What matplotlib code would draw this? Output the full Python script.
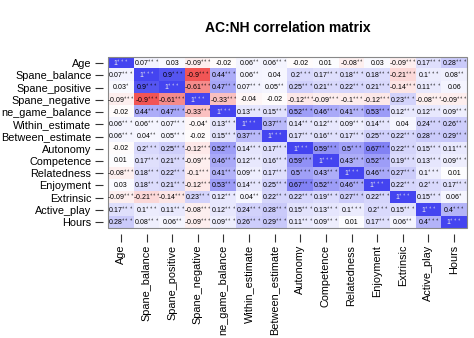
import numpy as np
import matplotlib
matplotlib.use("Agg")
import matplotlib.pyplot as plt
from matplotlib.colors import LinearSegmentedColormap
from matplotlib.patches import Rectangle

plt.rcParams['font.family'] = ['Liberation Sans', 'DejaVu Sans']
plt.rcParams['mathtext.fontset'] = 'custom'
plt.rcParams['mathtext.rm'] = 'Liberation Sans'
plt.rcParams['mathtext.it'] = 'Liberation Sans'
plt.rcParams['mathtext.bf'] = 'Liberation Sans:bold'

labels = ["Age", "Spane_balance", "Spane_positive", "Spane_negative",
          "ne_game_balance", "Within_estimate", "Between_estimate", "Autonomy",
          "Competence", "Relatedness", "Enjoyment", "Extrinsic", "Active_play", "Hours"]

# correlation values, row by row
r_age = [1, 0.07, 0.03, -0.09, -0.02, 0.06, 0.06, -0.02, 0.01, -0.08, 0.03, -0.09, 0.17, 0.28]
r_sbal = [0.07, 1, 0.9, -0.9, 0.44, 0.06, 0.04, 0.2, 0.17, 0.18, 0.18, -0.21, 0.1, 0.08]
r_spos = [0.03, 0.9, 1, -0.61, 0.47, 0.07, 0.05, 0.25, 0.21, 0.22, 0.21, -0.14, 0.11, 0.06]
r_sneg = [-0.09, -0.9, -0.61, 1, -0.33, -0.04, -0.02, -0.12, -0.09, -0.1, -0.12, 0.23, -0.08, -0.09]
r_gbal = [-0.02, 0.44, 0.47, -0.33, 1, 0.13, 0.15, 0.52, 0.46, 0.41, 0.53, 0.12, 0.12, 0.09]
r_with = [0.06, 0.06, 0.07, -0.04, 0.13, 1, 0.37, 0.14, 0.12, 0.09, 0.14, 0.04, 0.24, 0.26]
r_betw = [0.06, 0.04, 0.05, -0.02, 0.15, 0.37, 1, 0.17, 0.16, 0.17, 0.25, 0.22, 0.28, 0.29]
r_auto = [-0.02, 0.2, 0.25, -0.12, 0.52, 0.14, 0.17, 1, 0.59, 0.5, 0.67, 0.22, 0.15, 0.11]
r_comp = [0.01, 0.17, 0.21, -0.09, 0.46, 0.12, 0.16, 0.59, 1, 0.43, 0.52, 0.19, 0.13, 0.09]
r_rela = [-0.08, 0.18, 0.22, -0.1, 0.41, 0.09, 0.17, 0.5, 0.43, 1, 0.46, 0.27, 0.1, 0.01]
r_enjo = [0.03, 0.18, 0.21, -0.12, 0.53, 0.14, 0.25, 0.67, 0.52, 0.46, 1, 0.22, 0.2, 0.17]
r_extr = [-0.09, -0.21, -0.14, 0.23, 0.12, 0.04, 0.22, 0.22, 0.19, 0.27, 0.22, 1, 0.15, 0.06]
r_act = [0.17, 0.1, 0.11, -0.08, 0.12, 0.24, 0.28, 0.15, 0.13, 0.1, 0.2, 0.15, 1, 0.4]
r_hour = [0.28, 0.08, 0.06, -0.09, 0.09, 0.26, 0.29, 0.11, 0.09, 0.01, 0.17, 0.06, 0.4, 1]

# significance stars, row by row
s_age = ["***", "***", "", "***", "", "**", "***", "", "", "**", "", "***", "***", "***"]
s_sbal = ["***", "***", "***", "***", "***", "**", "", "***", "***", "***", "***", "***", "***", "**"]
s_spos = ["*", "***", "***", "***", "***", "***", "**", "***", "***", "***", "***", "***", "***", ""]
s_sneg = ["***", "***", "***", "***", "***", "", "", "***", "***", "***", "***", "***", "***", "***"]
s_gbal = ["", "***", "***", "***", "***", "***", "***", "***", "***", "***", "***", "***", "***", "***"]
s_with = ["***", "***", "***", "*", "***", "***", "***", "***", "***", "***", "***", "", "***", "***"]
s_betw = ["***", "**", "***", "", "***", "***", "***", "***", "***", "***", "***", "***", "***", "***"]
s_auto = ["", "***", "***", "***", "***", "***", "***", "***", "***", "***", "***", "***", "***", "***"]
s_comp = ["", "***", "***", "***", "***", "***", "***", "***", "***", "***", "***", "***", "***", "***"]
s_rela = ["***", "***", "***", "***", "***", "***", "***", "***", "***", "***", "***", "***", "***", ""]
s_enjo = ["", "***", "***", "***", "***", "***", "***", "***", "***", "***", "***", "***", "***", "***"]
s_extr = ["***", "***", "***", "***", "***", "**", "***", "***", "***", "***", "***", "***", "***", "*"]
s_act = ["***", "***", "***", "***", "***", "***", "***", "***", "***", "***", "***", "***", "***", "***"]
s_hour = ["***", "***", "**", "***", "***", "***", "***", "***", "***", "", "***", "**", "***", "***"]

vals = np.array([r_age, r_sbal, r_spos, r_sneg, r_gbal, r_with, r_betw,
                 r_auto, r_comp, r_rela, r_enjo, r_extr, r_act, r_hour])
stars = [s_age, s_sbal, s_spos, s_sneg, s_gbal, s_with, s_betw,
         s_auto, s_comp, s_rela, s_enjo, s_extr, s_act, s_hour]

cmap = LinearSegmentedColormap.from_list("rwb", ["#f04444", "#ffffff", "#4444f0"])

fig = plt.figure(figsize=(4.74, 3.38), dpi=100)
ax = fig.add_axes([0.228, 0.325, 0.757, 0.506])
ax.imshow(vals, cmap=cmap, vmin=-1, vmax=1, aspect='auto', interpolation='nearest')

n = len(labels)
for i in range(n):
    for j in range(n):
        v = vals[i, j]
        txt = ("%g" % v)
        if stars[i][j]:
            txt += "$^{" + stars[i][j].replace("*", r"\ast") + "}$"
        col = "#eeeeee" if v == 1 else "black"
        ax.text(j, i, txt, ha='center', va='center', fontsize=5.0, color=col)

# R-style axes: ticks sit a little away from the matrix box
# (spine positioning resets the ticks, so do it before the labels)
for side in ['left', 'bottom']:
    ax.spines[side].set_position(('outward', 4))
    ax.spines[side].set_linewidth(0)
for side in ['top', 'right']:
    ax.spines[side].set_visible(False)
ax.add_patch(Rectangle((0, 0), 1, 1, transform=ax.transAxes, fill=False,
                       edgecolor='#888888', linewidth=0.8, clip_on=False))

ax.set_xticks(range(n))
ax.set_yticks(range(n))
ax.set_xticklabels(labels, rotation=90, fontsize=7.8)
ax.set_yticklabels(labels, fontsize=7.8)
ax.tick_params(axis='both', length=6, width=0.8, pad=2, color='#333333')

fig.text(0.607, 0.918, "AC:NH correlation matrix", ha='center', va='center',
         fontsize=10, fontweight='bold')

fig.savefig("out.png", dpi=100)
